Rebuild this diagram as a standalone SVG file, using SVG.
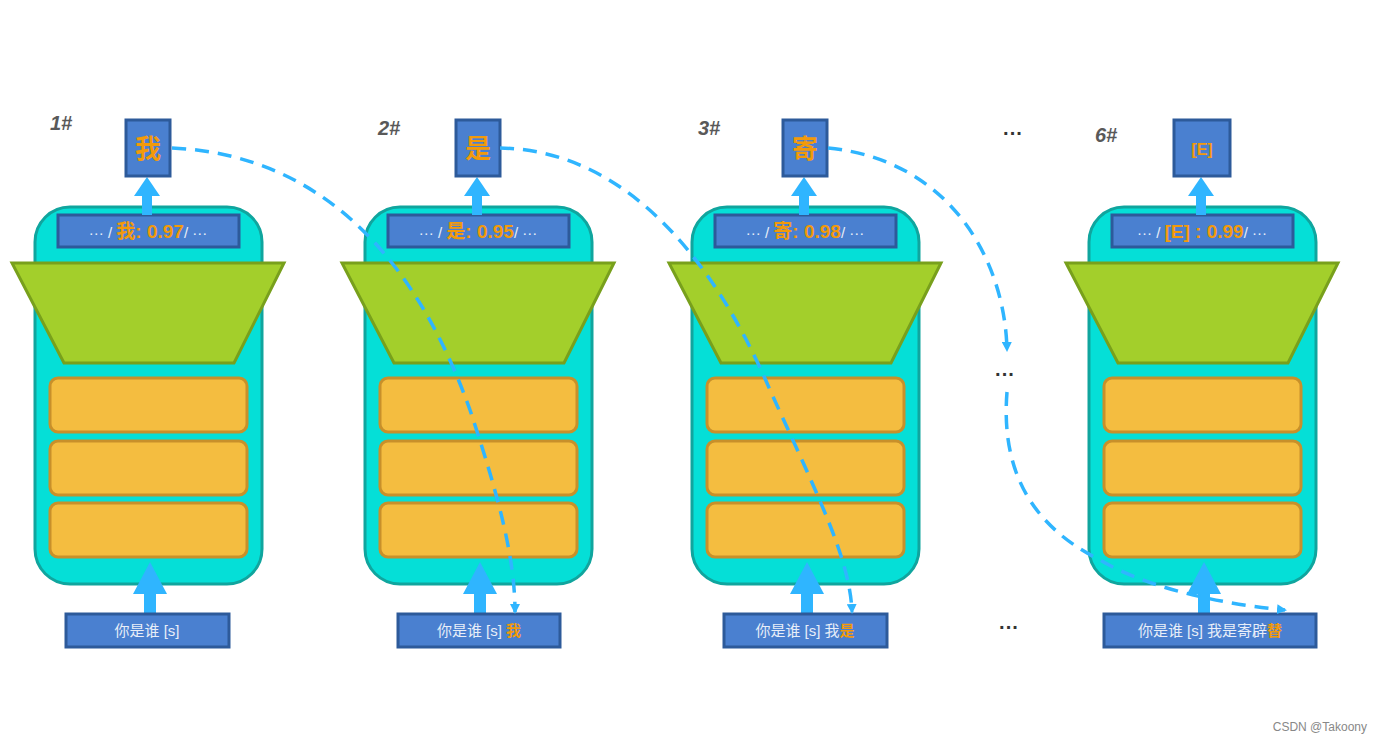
<svg xmlns="http://www.w3.org/2000/svg" width="1383" height="743" viewBox="0 0 1383 743">
<style>
.body{fill:#05dfd7;stroke:#10a59e;stroke-width:3}
.prob{fill:#4a80d0;stroke:#2d5a9a;stroke-width:3}
.trap{fill:#a3cf2b;stroke:#78a01c;stroke-width:3}
.lay{fill:#f4bd40;stroke:#c8902a;stroke-width:3}
.up{fill:#2fb5ff}
.t{font-family:"Liberation Sans","Noto Sans CJK SC",sans-serif}
.w{fill:#e8eef8;font-size:15px}
.o{fill:#f29a0a;font-weight:bold}
.num{font-family:"Liberation Sans",sans-serif;font-style:italic;font-weight:bold;font-size:20px;fill:#595959}
.dash{fill:none;stroke:#2fb5ff;stroke-width:3.5;stroke-dasharray:14 9}
</style>
<defs>
<marker id="ah" markerWidth="10" markerHeight="10" refX="8" refY="5" orient="auto" markerUnits="userSpaceOnUse"><path d="M0,0 L10,5 L0,10z" fill="#2fb5ff"/></marker>
<g id="col">
<rect class="body" x="35" y="207" width="227" height="377" rx="35"/>
<rect class="prob" x="58" y="215" width="181" height="32"/>
<polygon class="trap" points="12,263 284,263 234,363 64,363"/>
<rect class="lay" x="50" y="378" width="197" height="54" rx="8"/>
<rect class="lay" x="50" y="441" width="197" height="54" rx="8"/>
<rect class="lay" x="50" y="503" width="197" height="54" rx="8"/>
<rect class="up" x="142" y="193" width="10" height="22"/>
<polygon class="up" points="134,196 160,196 147,177"/>
<rect class="up" x="144" y="592" width="12" height="24"/>
<polygon class="up" points="133,594 167,594 150,562"/>
</g>
</defs>
<g id="node1">
<use href="#col"/>
<rect class="prob" x="126" y="120" width="44" height="56"/>
<text class="t o" x="148" y="158" font-size="26" text-anchor="middle">我</text>
<text class="t" x="148" y="238" text-anchor="middle" font-size="19"><tspan class="w" font-size="13">··· / </tspan><tspan class="o">我: 0.97</tspan><tspan class="w" font-size="13">/ ···</tspan></text>
<rect class="prob" x="66" y="614" width="163" height="33"/>
<text class="t w" x="147" y="636" text-anchor="middle">你是谁 [s]</text>
<text class="num" x="50" y="130">1#</text>
</g>
<g id="node2">
<use href="#col" x="330"/>
<rect class="prob" x="456" y="120" width="44" height="56"/>
<text class="t o" x="478" y="158" font-size="26" text-anchor="middle">是</text>
<text class="t" x="478" y="238" text-anchor="middle" font-size="19"><tspan class="w" font-size="13">··· / </tspan><tspan class="o">是: 0.95</tspan><tspan class="w" font-size="13">/ ···</tspan></text>
<rect class="prob" x="398" y="614" width="162" height="33"/>
<text class="t w" x="479" y="636" text-anchor="middle">你是谁 [s] <tspan class="o" font-weight="normal">我</tspan></text>
<text class="num" x="378" y="135">2#</text>
</g>
<g id="node3">
<use href="#col" x="657"/>
<rect class="prob" x="783" y="120" width="44" height="56"/>
<text class="t o" x="805" y="158" font-size="26" text-anchor="middle">寄</text>
<text class="t" x="805" y="238" text-anchor="middle" font-size="19"><tspan class="w" font-size="13">··· / </tspan><tspan class="o">寄: 0.98</tspan><tspan class="w" font-size="13">/ ···</tspan></text>
<rect class="prob" x="724" y="614" width="163" height="33"/>
<text class="t w" x="805" y="636" text-anchor="middle">你是谁 [s] 我<tspan class="o" font-weight="normal">是</tspan></text>
<text class="num" x="698" y="135">3#</text>
</g>
<g id="node4">
<use href="#col" x="1054"/>
<rect class="prob" x="1174" y="120" width="56" height="56"/>
<text class="t o" x="1202" y="155" font-size="16" text-anchor="middle">[E]</text>
<text class="t" x="1202" y="238" text-anchor="middle" font-size="19"><tspan class="w" font-size="13">··· / </tspan><tspan class="o">[E] : 0.99</tspan><tspan class="w" font-size="13">/ ···</tspan></text>
<rect class="prob" x="1104" y="614" width="212" height="33"/>
<text class="t w" x="1210" y="636" text-anchor="middle">你是谁 [s] 我是寄辟<tspan class="o" font-weight="normal">替</tspan></text>
<text class="num" x="1095" y="142">6#</text>
</g>
<g id="connectors">
<path class="dash" d="M172,148 C330,155 420,270 470,410 C500,500 515,560 515,612" marker-end="url(#ah)"/>
<path class="dash" d="M500,148 C620,150 710,250 770,390 C820,500 850,560 852,612" marker-end="url(#ah)"/>
<path class="dash" d="M828,148 C950,160 1005,260 1007,350" marker-end="url(#ah)"/>
<path class="dash" d="M1007,392 C1000,480 1040,530 1100,560 C1150,590 1230,605 1285,610" marker-end="url(#ah)"/>
</g>
<g class="t" font-size="20" font-weight="bold" fill="#333">
<text x="1013" y="140" text-anchor="middle">···</text>
<text x="1005" y="381" text-anchor="middle">···</text>
<text x="1009" y="634" text-anchor="middle">···</text>
</g>
<text class="t" x="1367" y="731" font-size="12" fill="#888" text-anchor="end">CSDN @Takoony</text>
</svg>
